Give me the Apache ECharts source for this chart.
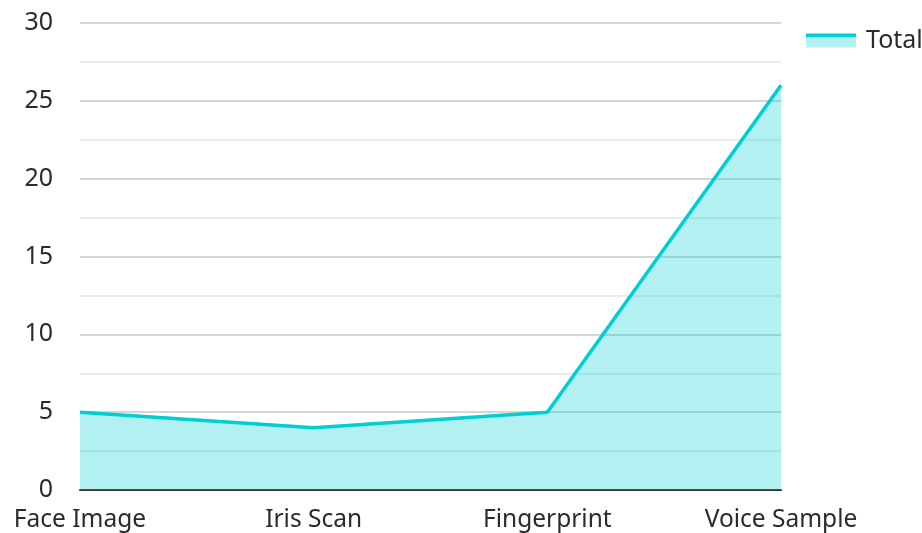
<!DOCTYPE html>
<html><head><meta charset="utf-8">
<script src="https://cdn.jsdelivr.net/npm/echarts@6/dist/echarts.min.js"></script>
<style>html,body{margin:0;padding:0;background:#fff}#c{width:922px;height:533px}</style>
</head><body><div id="c"></div>
<script>
const categories = ['Face Image', 'Iris Scan', 'Fingerprint', 'Voice Sample'];
const totalValues = [5, 4, 5, 26];
const seriesName = 'Total';

const lineColor = '#00CED1';
const areaColor = '#B2F0F1';
const chart = echarts.init(document.getElementById('c'));
chart.setOption({
  animation: false,
  textStyle: { fontFamily: 'Noto Sans' },
  grid: { left: 80, right: 141, top: 23, bottom: 43 },
  legend: {
    left: 806, top: 28, icon: 'rect', itemWidth: 50, itemHeight: 14, itemGap: 10, padding: 0,
    textStyle: { fontSize: 25, color: '#2b2b2b', fontFamily: 'Noto Sans', padding: [0, 0, 0, 5] },
    itemStyle: { color: new echarts.graphic.LinearGradient(0, 0, 0, 1, [
      { offset: 0, color: lineColor }, { offset: 0.25, color: lineColor },
      { offset: 0.25, color: areaColor }, { offset: 1, color: areaColor }]) },
    data: [seriesName]
  },
  xAxis: {
    type: 'category', data: categories, boundaryGap: false,
    axisLine: { lineStyle: { color: '#333', width: 2 } },
    axisTick: { show: false },
    axisLabel: { color: '#2b2b2b', fontSize: 24.5, margin: 18, fontFamily: 'Noto Sans' }
  },
  yAxis: {
    type: 'value', min: 0, max: 30, interval: 5,
    axisLine: { show: false }, axisTick: { show: false },
    axisLabel: { color: '#2b2b2b', fontSize: 25, margin: 27, fontFamily: 'Noto Sans' },
    splitLine: { lineStyle: { color: '#c8c8c8', width: 1.5 } },
    minorTick: { show: false, splitNumber: 2 },
    minorSplitLine: { show: true, lineStyle: { color: '#e6e6e6', width: 1.5 } }
  },
  series: [{
    name: seriesName, type: 'line', data: totalValues, symbol: 'none',
    lineStyle: { color: lineColor, width: 3.5 },
    itemStyle: { color: lineColor },
    areaStyle: { color: lineColor, opacity: 0.3 }
  }]
});
</script></body></html>
